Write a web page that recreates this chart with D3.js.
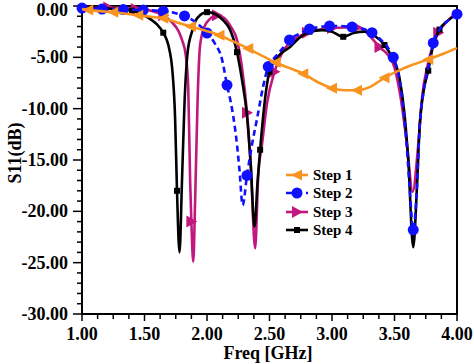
<!DOCTYPE html>
<html>
<head>
<meta charset="utf-8">
<script src="https://cdn.jsdelivr.net/npm/d3@7"></script>
<style>
html,body{margin:0;padding:0;background:#fff;}
svg{display:block;}
text{font-family:"Liberation Serif","Times New Roman",serif;font-weight:bold;fill:#000;}
</style>
</head>
<body>
<svg id="chart" width="474" height="364"></svg>
<script>
// ---- data ----
const xTicks = [1.00, 1.50, 2.00, 2.50, 3.00, 3.50, 4.00];
const yTicks = [0, -5, -10, -15, -20, -25, -30];
const legendLabels = ["Step 1", "Step 2", "Step 3", "Step 4"];

const freq1 = [1.00,1.05,1.15,1.25,1.35,1.45,1.55,1.65,1.75,1.87,2.00,2.10,2.20,2.33,2.45,2.55,2.65,2.77,2.90,3.00,3.10,3.20,3.30,3.42,3.55,3.65,3.77,3.90,4.00];
const s11_1 = [-0.3,-0.4,-0.5,-0.6,-0.75,-0.9,-1.05,-1.2,-1.55,-2.0,-2.45,-2.85,-3.4,-4.15,-4.9,-5.5,-6.0,-6.6,-7.5,-8.0,-8.2,-8.2,-7.9,-7.0,-6.2,-5.7,-5.2,-4.6,-4.1];
const markers1 = [1.05,1.25,1.45,1.65,1.87,2.10,2.33,2.55,2.77,3.00,3.20,3.42,3.77];

const freq2 = [1.00,1.16,1.33,1.49,1.65,1.75,1.82,1.90,2.00,2.06,2.12,2.16,2.20,2.24,2.26,2.285,2.32,2.36,2.40,2.45,2.49,2.55,2.60,2.66,2.74,2.82,2.90,2.98,3.07,3.16,3.24,3.32,3.40,3.45,3.49,3.54,3.57,3.60,3.62,3.65,3.68,3.70,3.73,3.77,3.81,3.86,3.93,4.00];
const s11_2 = [-0.2,-0.3,-0.35,-0.4,-0.5,-0.7,-0.97,-1.5,-2.63,-3.6,-5.2,-7.7,-10.0,-13.5,-16.0,-19.4,-16.5,-13.5,-11.0,-7.8,-5.9,-4.9,-4.2,-3.3,-2.7,-2.25,-2.05,-1.95,-1.95,-2.05,-2.2,-2.6,-3.4,-4.1,-5.0,-7.2,-10.0,-14.0,-17.5,-21.8,-17.6,-12.0,-8.5,-6.0,-3.6,-2.3,-1.4,-0.8];
const markers2 = [1.00,1.16,1.33,1.49,1.65,1.82,2.00,2.16,2.32,2.49,2.66,2.82,2.98,3.16,3.32,3.49,3.65,3.81,4.00];

const freq3 = [1.00,1.21,1.43,1.55,1.65,1.72,1.77,1.80,1.83,1.85,1.865,1.875,1.89,1.905,1.925,1.945,1.98,2.02,2.08,2.14,2.19,2.24,2.28,2.32,2.35,2.385,2.41,2.44,2.48,2.54,2.60,2.66,2.73,2.80,2.90,3.00,3.10,3.20,3.28,3.33,3.38,3.45,3.50,3.55,3.60,3.645,3.69,3.72,3.77,3.85,3.92,4.00];
const s11_3 = [-0.1,-0.15,-0.3,-0.45,-0.9,-1.6,-2.4,-3.3,-4.8,-8.0,-17.0,-21.0,-24.9,-19.0,-9.0,-3.8,-2.0,-1.3,-0.9,-1.2,-2.0,-3.3,-6.0,-10.4,-15.5,-23.6,-16.5,-13.5,-9.5,-6.4,-4.6,-3.6,-3.0,-2.6,-2.3,-2.15,-2.1,-2.1,-2.6,-3.3,-4.0,-4.8,-6.0,-9.0,-13.5,-18.1,-13.5,-9.0,-5.5,-2.6,-1.5,-0.7];
const markers3 = [1.21,1.43,1.65,1.875,2.08,2.32,2.54,2.80,3.00,3.20,3.38,3.85];

const freq4 = [1.00,1.15,1.40,1.48,1.55,1.60,1.65,1.70,1.72,1.745,1.76,1.78,1.80,1.82,1.845,1.88,1.92,2.00,2.05,2.13,2.18,2.24,2.28,2.32,2.35,2.38,2.405,2.425,2.46,2.50,2.57,2.664,2.74,2.82,2.92,3.00,3.09,3.18,3.26,3.34,3.42,3.48,3.54,3.58,3.61,3.65,3.68,3.70,3.73,3.77,3.81,3.86,3.93,4.00];
const s11_4 = [-0.1,-0.2,-0.45,-0.8,-1.3,-1.8,-2.6,-4.3,-5.9,-11.0,-18.0,-24.0,-17.0,-9.5,-4.5,-2.5,-1.2,-0.6,-0.7,-1.4,-2.2,-4.5,-7.2,-10.7,-15.5,-21.5,-17.0,-14.0,-9.5,-6.4,-4.9,-4.0,-3.1,-2.5,-2.35,-2.5,-3.0,-2.6,-2.5,-2.9,-3.8,-5.0,-7.0,-10.5,-15.0,-23.5,-17.5,-12.0,-8.5,-6.3,-3.8,-2.3,-1.4,-0.8];
const markers4 = [1.15,1.40,1.65,1.76,2.00,2.24,2.425,2.50,2.82,3.09,3.42,3.77,3.86];

// ---- layout ----
const svg = d3.select("#chart");
const mLeft = 82, mRight = 457, mTop = 6, mBottom = 314;
const x = d3.scaleLinear().domain([1, 4]).range([mLeft, mRight]);
const y = d3.scaleLinear().domain([-30, 0]).range([mBottom, mTop]);

// frame
svg.append("rect").attr("x", mLeft).attr("y", mTop).attr("width", mRight-mLeft).attr("height", mBottom-mTop)
  .attr("fill", "none").attr("stroke", "#000").attr("stroke-width", 2);

// y axis ticks
const yMinor = d3.range(0, -31, -1);
svg.append("g").selectAll("line").data(yMinor).join("line")
  .attr("x1", d => d % 5 === 0 ? mLeft - 9 : mLeft - 5).attr("x2", mLeft)
  .attr("y1", d => y(d)).attr("y2", d => y(d))
  .attr("stroke", "#000").attr("stroke-width", 1.5);
svg.append("g").selectAll("text").data(yTicks).join("text")
  .attr("x", 68).attr("y", d => Math.max(y(d) + 6, 16))
  .attr("text-anchor", "end").attr("font-size", 18)
  .text(d => d.toFixed(2));

// x axis ticks
const xMinor = d3.range(0, 25).map(i => 1 + i * 0.125);
svg.append("g").selectAll("line").data(xMinor).join("line")
  .attr("x1", d => x(d)).attr("x2", d => x(d))
  .attr("y1", mBottom).attr("y2", (d, i) => i % 4 === 0 ? mBottom + 7 : mBottom + 5)
  .attr("stroke", "#000").attr("stroke-width", 1.5);
svg.append("g").selectAll("text").data(xTicks).join("text")
  .attr("x", d => x(d)).attr("y", 340)
  .attr("text-anchor", "middle").attr("font-size", 18)
  .text(d => d.toFixed(2));

// axis titles
svg.append("text").attr("x", 268).attr("y", 359).attr("text-anchor", "middle")
  .attr("font-size", 18).text("Freq [GHz]");
svg.append("text").attr("transform", "translate(21,153) rotate(-90)")
  .attr("text-anchor", "middle").attr("font-size", 18).text("S11(dB)");

// ---- series ----
const series = [
  {name: legendLabels[2], f: freq3, v: s11_3, m: markers3, color: "#c2177f", dash: null, shape: "triR"},
  {name: legendLabels[3], f: freq4, v: s11_4, m: markers4, color: "#000000", dash: null, shape: "square"},
  {name: legendLabels[1], f: freq2, v: s11_2, m: markers2, color: "#1010ff", dash: "6,4", shape: "circle"},
  {name: legendLabels[0], f: freq1, v: s11_1, m: markers1, color: "#f7931e", dash: null, shape: "triL"}
];

const line = d3.line().x(d => x(d[0])).y(d => y(d[1])).curve(d3.curveMonotoneX);

function drawMarker(g, shape, cx, cy, color) {
  if (shape === "circle") {
    g.append("circle").attr("cx", cx).attr("cy", cy).attr("r", 5.5).attr("fill", color);
  } else if (shape === "square") {
    g.append("rect").attr("x", cx - 3).attr("y", cy - 3).attr("width", 6).attr("height", 6).attr("fill", color);
  } else if (shape === "triL") {
    g.append("path").attr("d", `M${cx-6},${cy} L${cx+5},${cy-5.5} L${cx+5},${cy+5.5} Z`).attr("fill", color);
  } else if (shape === "triR") {
    g.append("path").attr("d", `M${cx+6},${cy} L${cx-5},${cy-6} L${cx-5},${cy+6} Z`).attr("fill", color);
  }
}

series.forEach(s => {
  const pts = s.f.map((f, i) => [f, s.v[i]]);
  const g = svg.append("g");
  g.append("path").attr("d", line(pts)).attr("fill", "none")
    .attr("stroke", s.color).attr("stroke-width", 2.6)
    .attr("stroke-dasharray", s.dash);
  s.m.forEach(mf => {
    const i = s.f.findIndex(f => Math.abs(f - mf) < 1e-9);
    if (i >= 0) drawMarker(g, s.shape, x(s.f[i]), y(s.v[i]), s.color);
  });
});

// ---- legend ----
const legendOrder = [
  {label: legendLabels[0], color: "#f7931e", dash: null, shape: "triL"},
  {label: legendLabels[1], color: "#1010ff", dash: "6,4", shape: "circle"},
  {label: legendLabels[2], color: "#c2177f", dash: null, shape: "triR"},
  {label: legendLabels[3], color: "#000000", dash: null, shape: "square"}
];
const legY = [175, 193, 212, 230];
legendOrder.forEach((d, i) => {
  const g = svg.append("g");
  g.append("line").attr("x1", 286).attr("x2", 308).attr("y1", legY[i]).attr("y2", legY[i])
    .attr("stroke", d.color).attr("stroke-width", 2.6).attr("stroke-dasharray", d.dash);
  drawMarker(g, d.shape, 297, legY[i], d.color);
  g.append("text").attr("x", 313).attr("y", legY[i] + 5).attr("font-size", 15).text(d.label);
});
</script>
</body>
</html>
